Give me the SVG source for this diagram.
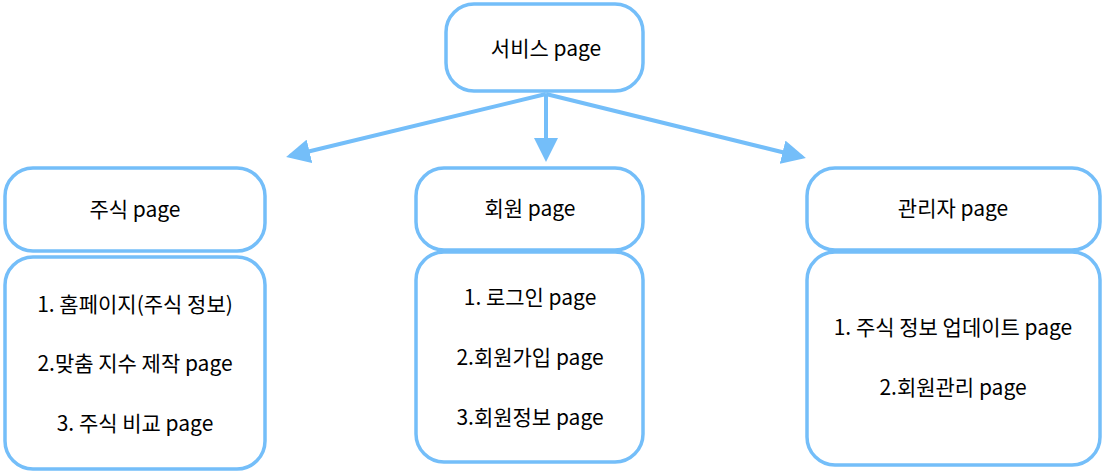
<svg xmlns="http://www.w3.org/2000/svg" width="1106" height="474" viewBox="0 0 1106 474">
<style>
.b{fill:#fff;stroke:#74bef9;stroke-width:3.5}
.c{stroke:#74bef9;stroke-width:4;fill:none}
text{font-family:"Noto Sans CJK KR","Noto Sans",sans-serif;font-size:21px;fill:#000;text-anchor:middle;dominant-baseline:central}
</style>
<defs><marker id="a" markerWidth="6" markerHeight="6" refX="5" refY="3" orient="auto" markerUnits="strokeWidth"><path d="M0,0L6,3L0,6z" fill="#74bef9"/></marker></defs>
<rect width="1106" height="474" fill="#fff"/>
<g id="connectors">
<line class="c" x1="546" y1="94" x2="290" y2="156" marker-end="url(#a)"/>
<line class="c" x1="546" y1="94" x2="546" y2="158" marker-end="url(#a)"/>
<line class="c" x1="546" y1="94" x2="802" y2="157" marker-end="url(#a)"/>
</g>
<g id="service"><rect class="b" x="446" y="4" width="197" height="87" rx="28"/><text x="546" y="47">서비스 page</text></g>
<g id="stock"><rect class="b" x="5" y="168" width="260" height="83" rx="28"/><text x="135" y="208">주식 page</text></g>
<g id="stock-list"><rect class="b" x="5" y="257" width="260" height="212" rx="28"/><text x="135" y="303">1. 홈페이지(주식 정보)</text><text x="135" y="362">2.맞춤 지수 제작 page</text><text x="135" y="422">3. 주식 비교 page</text></g>
<g id="member"><rect class="b" x="416" y="168" width="227" height="82" rx="28"/><text x="530" y="207">회원 page</text></g>
<g id="member-list"><rect class="b" x="416" y="252" width="227" height="210" rx="28"/><text x="530" y="296">1. 로그인 page</text><text x="530" y="356">2.회원가입 page</text><text x="530" y="416">3.회원정보 page</text></g>
<g id="admin"><rect class="b" x="807" y="168" width="293" height="82" rx="28"/><text x="953" y="207">관리자 page</text></g>
<g id="admin-list"><rect class="b" x="807" y="252" width="293" height="213" rx="28"/><text x="953" y="326">1. 주식 정보 업데이트 page</text><text x="953" y="386">2.회원관리 page</text></g>
</svg>
